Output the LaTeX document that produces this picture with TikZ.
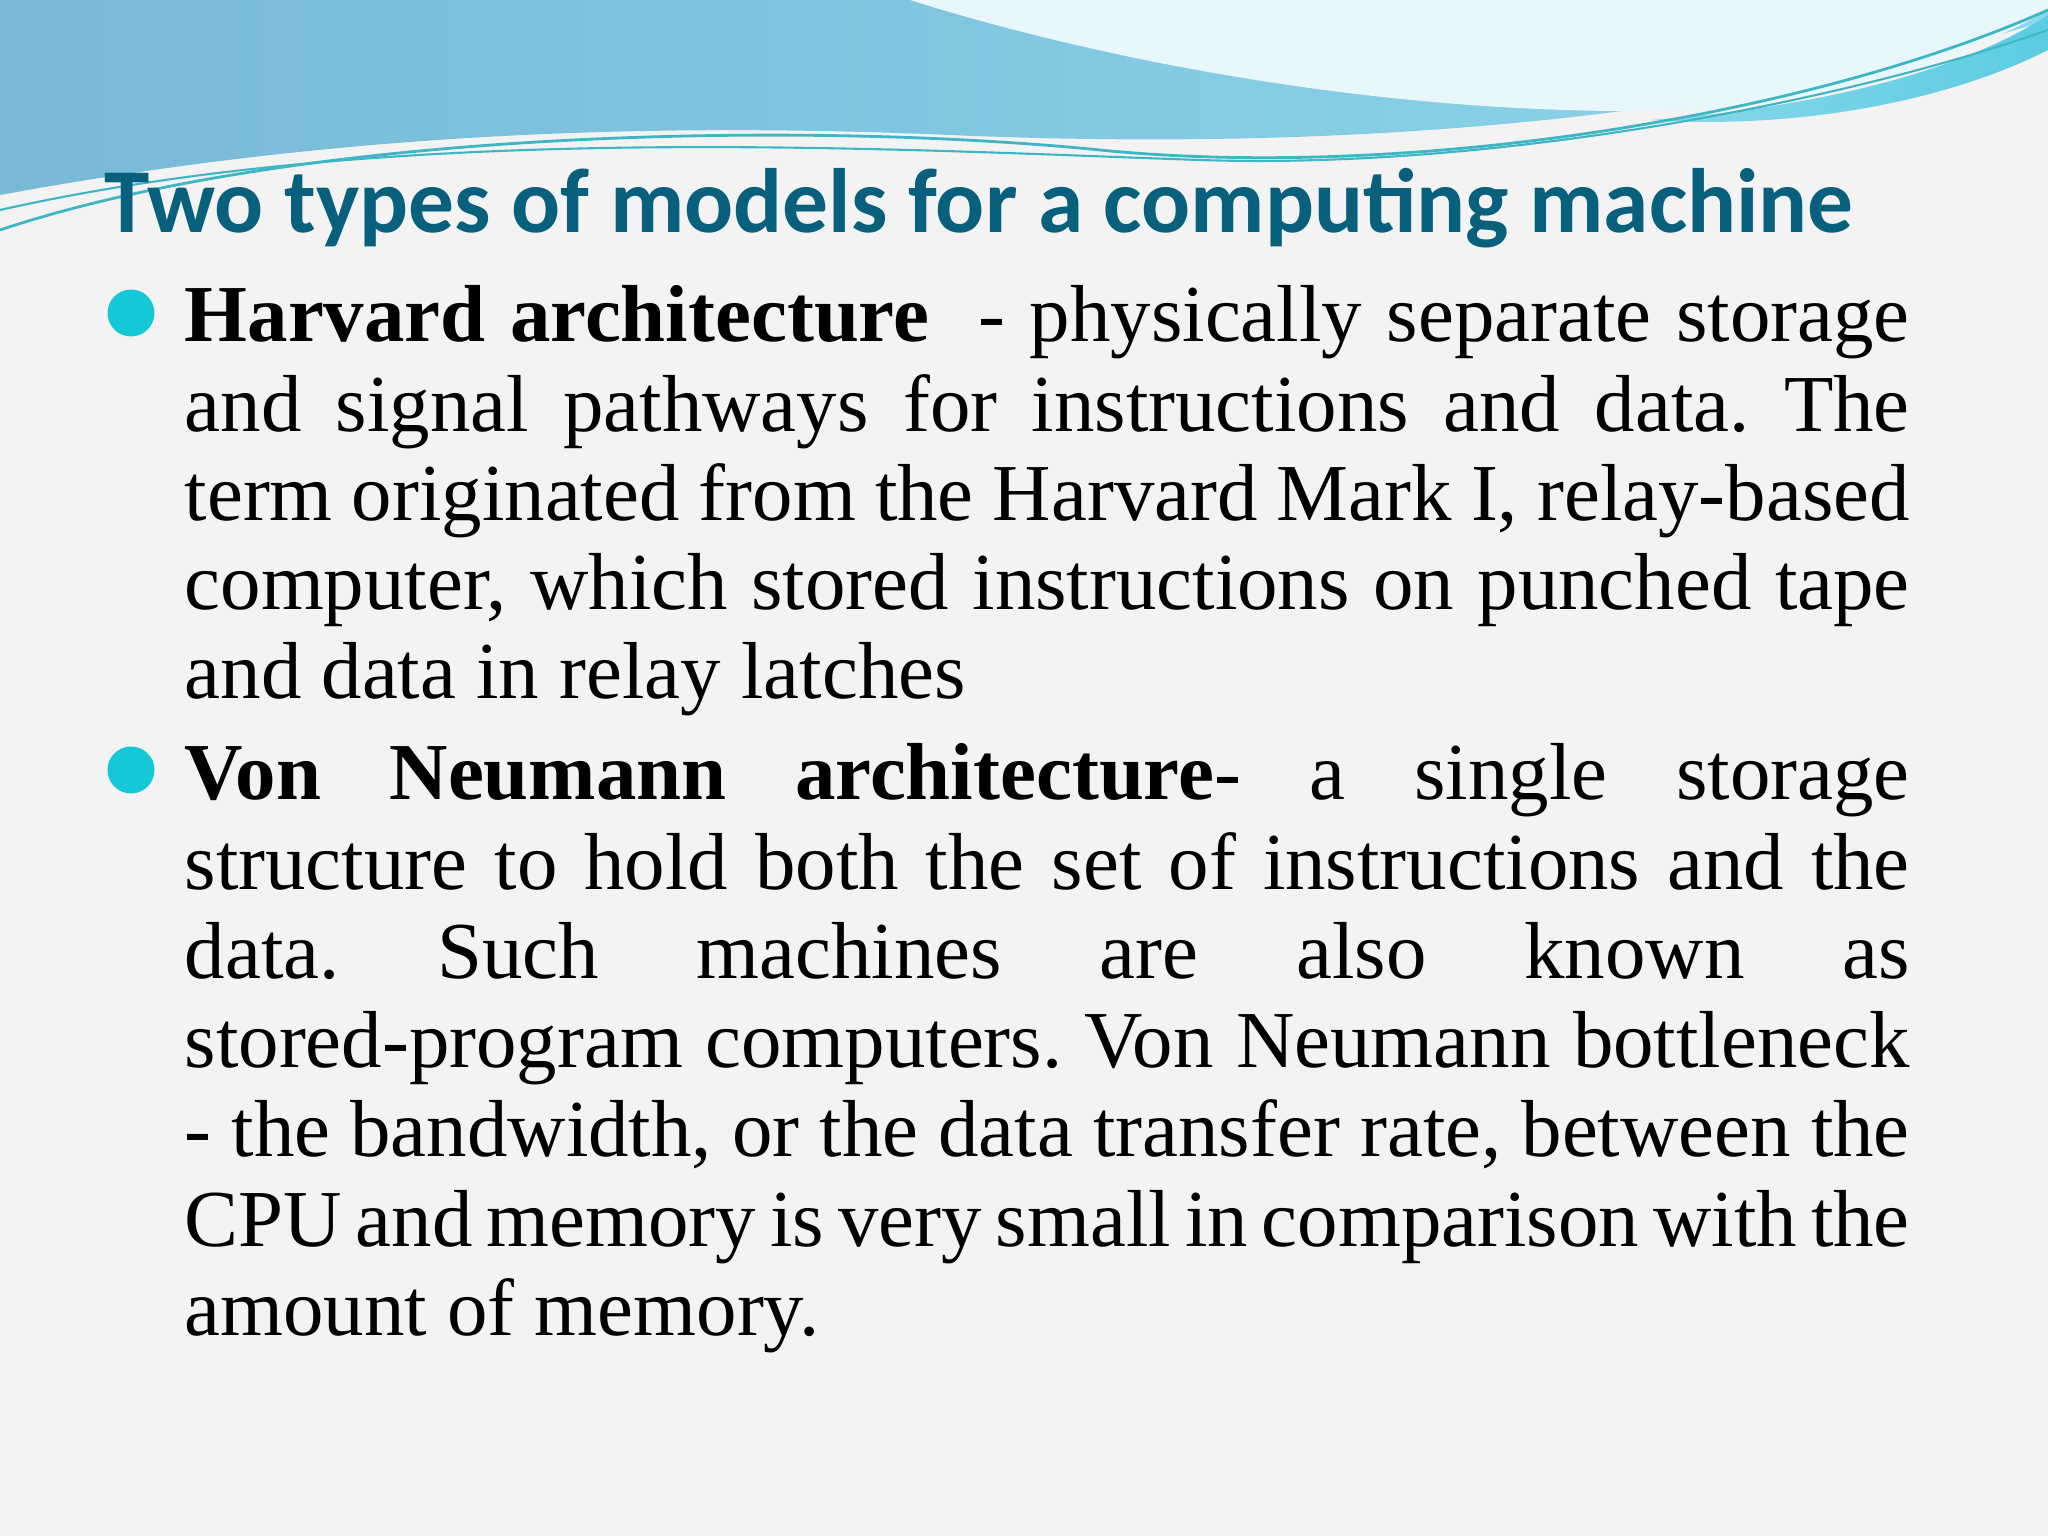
\documentclass[tikz,border=0pt]{standalone}
\usepackage{fontspec}
\setmainfont{Liberation Serif}
\newfontfamily\titlefont{Carlito}
\definecolor{bgc}{RGB}{243,243,243}
\definecolor{titc}{RGB}{8,96,124}
\definecolor{bulc}{RGB}{20,200,215}
\definecolor{skyA}{RGB}{120,185,215}
\definecolor{skyB}{RGB}{140,215,235}
\definecolor{skyC}{RGB}{90,205,225}
\tikzset{bodytext/.style={anchor=north west,inner sep=0pt,text width=17.25cm,align=justify,font=\fontsize{23}{25.4}\selectfont\frenchspacing},
 bul/.style={circle,fill=bulc,minimum size=0.47cm,inner sep=0pt}}
\begin{document}
\begin{tikzpicture}
\useasboundingbox (0,0) rectangle (20.48,-15.36);
\fill[bgc] (0,0) rectangle (20.48,-15.36);
% top waves
\shade[left color=skyA,right color=skyB] (0,0) -- (0,-1.95) .. controls (3,-1.4) and (6,-1.2) .. (9.5,-1.35) .. controls (13,-1.5) and (17,-1.3) .. (20.48,-0.2) -- (20.48,0) -- cycle;
\fill[white!80!skyB] (9.1,0) .. controls (11,-0.6) and (14,-1.2) .. (17,-1.1) .. controls (18.5,-1.0) and (19.8,-0.5) .. (20.48,-0.1) -- (20.48,0) -- cycle;
\shade[left color=skyB,right color=skyC] (16.5,-1.2) .. controls (18.5,-1.05) and (19.8,-0.6) .. (20.48,-0.15) -- (20.48,-0.5) .. controls (19.5,-1.0) and (18,-1.3) .. (16.5,-1.2) -- cycle;
\draw[skyC!70!teal,line width=0.8pt] (0,-2.3) .. controls (3,-1.3) and (8,-1.2) .. (11,-1.5) .. controls (14,-1.8) and (18,-1.2) .. (20.48,-0.1);
\draw[skyC!70!teal,line width=0.6pt] (0,-2.1) .. controls (4,-1.2) and (9,-1.5) .. (12,-1.6) .. controls (15,-1.7) and (18.5,-1.0) .. (20.48,-0.3);
% title
\node[anchor=base west,inner sep=0pt,text=titc,font=\titlefont\bfseries\fontsize{26}{30}\selectfont] (title) at (1.04,-2.33) {Two types of models for a computing machine};
% bullets
\node[bul] (b1) at (1.31,-3.13) {};
\node[bul] (b2) at (1.31,-7.7) {};
\node[bodytext] (p1) at (1.84,-2.85) {\textbf{Harvard architecture}~ - physically separate storage\linebreak and signal pathways for instructions and data. The\linebreak term originated from the Harvard Mark I, relay-based\linebreak computer, which stored instructions on punched tape\linebreak and data in relay latches};
\node[bodytext] (p2) at (1.84,-7.43) {\textbf{Von Neumann architecture}- a single storage\linebreak structure to hold both the set of instructions and the\linebreak data. Such machines are also known as\linebreak stored-program computers. Von Neumann bottleneck\linebreak - the bandwidth, or the data transfer rate, between the\linebreak CPU and memory is very small in comparison with the\linebreak amount of memory.};
\end{tikzpicture}
\end{document}
